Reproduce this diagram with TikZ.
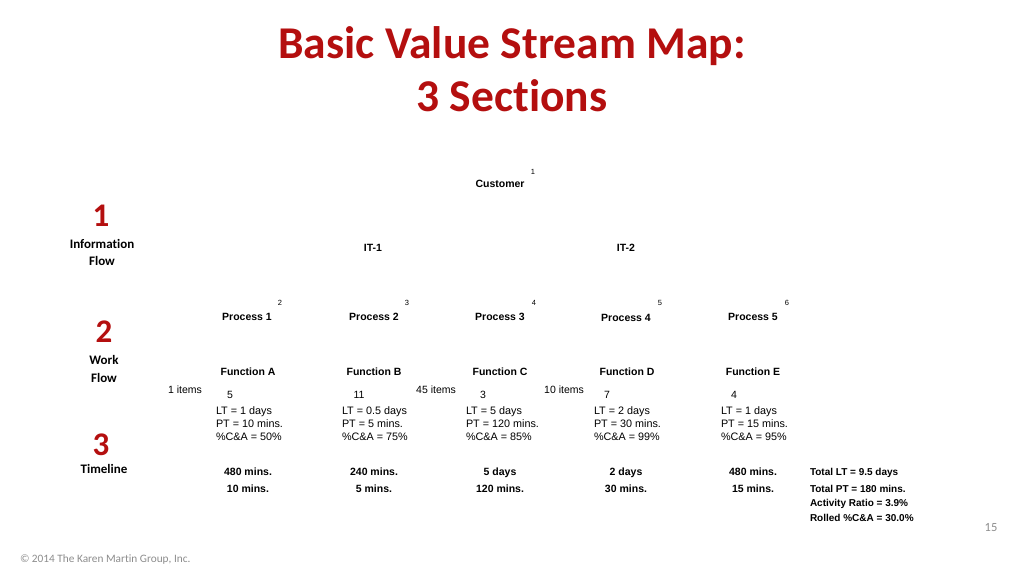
\documentclass[tikz,border=0pt]{standalone}
\usepackage{fontspec}
\setmainfont{Liberation Sans}
\newfontfamily\calfont[Ligatures={NoCommon,NoRare}]{Carlito}
\definecolor{vsred}{HTML}{B40F0F}
\definecolor{foot}{HTML}{8C8C8C}
\begin{document}
\begin{tikzpicture}[x=1pt,y=-1pt,
  every node/.style={inner sep=0pt,outer sep=0pt,anchor=base},
  ttl/.style={font=\calfont\bfseries\fontsize{45.5}{48}\selectfont,text=vsred},
  secnum/.style={font=\calfont\bfseries\fontsize{33}{34}\selectfont,text=vsred},
  seclab/.style={font=\calfont\bfseries\fontsize{13}{17}\selectfont},
  bold/.style={font=\bfseries\fontsize{10.5}{12}\selectfont},
  reg/.style={font=\fontsize{10.5}{12.5}\selectfont},
  sup/.style={font=\fontsize{7.5}{8}\selectfont},
  data/.style={font=\fontsize{10.8}{12.6}\selectfont,align=left,anchor=north west},
  tot/.style={font=\bfseries\fontsize{10}{12}\selectfont,anchor=base west}]
\useasboundingbox (0,0) rectangle (1024,576);
% title
\node[ttl] (t1) at (512,58) {Basic Value Stream Map:};
\node[ttl] (t2) at (512,111) {3 Sections};
% section labels
\node[secnum] (n1) at (101,226) {1};
\node[seclab] (l1a) at (102,248) {Information};
\node[seclab] (l1b) at (102,265) {Flow};
\node[secnum] (n2) at (104,342) {2};
\node[seclab] (l2a) at (104,364) {Work};
\node[seclab] (l2b) at (104,382) {Flow};
\node[secnum] (n3) at (101,455) {3};
\node[seclab] (l3) at (104,473) {Timeline};
% info flow
\node[bold] (cust) at (500,187) {Customer};
\node[sup] (s1) at (533,174) {1};
\node[bold] (it1) at (373,251) {IT-1};
\node[bold] (it2) at (626,251) {IT-2};
% processes
\node[bold] (p1) at (247,320) {Process 1};
\node[sup] (s2) at (280,305) {2};
\node[bold] (p2) at (374,320) {Process 2};
\node[sup] (s3) at (407,305) {3};
\node[bold] (p3) at (500,320) {Process 3};
\node[sup] (s4) at (534,305) {4};
\node[bold] (p4) at (626,321) {Process 4};
\node[sup] (s5) at (660,305) {5};
\node[bold] (p5) at (753,320) {Process 5};
\node[sup] (s6) at (787,305) {6};
% functions
\node[bold] (fa) at (248,375) {Function A};
\node[bold] (fb) at (374,375) {Function B};
\node[bold] (fc) at (500,375) {Function C};
\node[bold] (fd) at (627,375) {Function D};
\node[bold] (fe) at (753,375) {Function E};
% inventory
\node[reg] (i1) at (185,393) {1 items};
\node[reg] (i2) at (436,393) {45 items};
\node[reg] (i3) at (564,393) {10 items};
% counts
\node[reg] (c1) at (230,398) {5};
\node[reg] (c2) at (359,398) {11};
\node[reg] (c3) at (483,398) {3};
\node[reg] (c4) at (607,398) {7};
\node[reg] (c5) at (734,398) {4};
% data boxes
\node[data] (d1) at (216,407) {LT = 1 days\\PT = 10 mins.\\\%C\&A = 50\%};
\node[data] (d2) at (342,407) {LT = 0.5 days\\PT = 5 mins.\\\%C\&A = 75\%};
\node[data] (d3) at (466,407) {LT = 5 days\\PT = 120 mins.\\\%C\&A = 85\%};
\node[data] (d4) at (594,407) {LT = 2 days\\PT = 30 mins.\\\%C\&A = 99\%};
\node[data] (d5) at (721,407) {LT = 1 days\\PT = 15 mins.\\\%C\&A = 95\%};
% timeline
\node[bold] (ta1) at (248,475) {480 mins.};
\node[bold] (tb1) at (248,492) {10 mins.};
\node[bold] (ta2) at (374,475) {240 mins.};
\node[bold] (tb2) at (374,492) {5 mins.};
\node[bold] (ta3) at (500,475) {5 days};
\node[bold] (tb3) at (500,492) {120 mins.};
\node[bold] (ta4) at (626,475) {2 days};
\node[bold] (tb4) at (626,492) {30 mins.};
\node[bold] (ta5) at (753,475) {480 mins.};
\node[bold] (tb5) at (753,492) {15 mins.};
% totals
\node[tot] (tl) at (810,475) {Total LT = 9.5 days};
\node[tot] (tp) at (810,492) {Total PT = 180 mins.};
\node[tot] (ar) at (810,506) {Activity Ratio = 3.9\%};
\node[tot] (rc) at (810,521) {Rolled \%C\&A = 30.0\%};
% footer
\node[font=\calfont\fontsize{11.3}{12}\selectfont,text=foot,anchor=base west] (copy) at (20,562) {© 2014 The Karen Martin Group, Inc.};
\node[font=\calfont\fontsize{12.5}{13}\selectfont,text=foot] (pg) at (991,531) {15};
\end{tikzpicture}
\end{document}
